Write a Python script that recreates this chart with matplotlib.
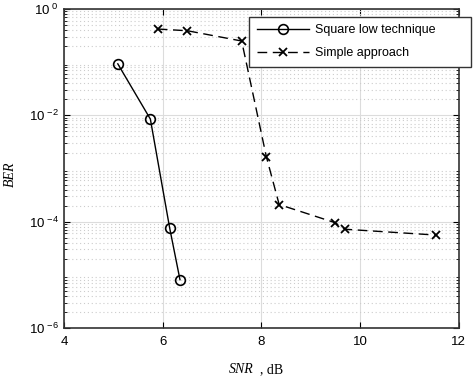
import matplotlib
matplotlib.use("Agg")
import matplotlib.pyplot as plt
from matplotlib.ticker import LogLocator, NullFormatter, FixedLocator

snr_square = [5.09, 5.75, 6.14, 6.35]
ber_square = [9.3e-2, 8.5e-3, 7.7e-5, 8.1e-6]
snr_simple = [5.90, 6.50, 7.60, 8.10, 8.36, 9.49, 9.70, 11.54]
ber_simple = [0.42, 0.39, 0.25, 1.67e-3, 2.1e-4, 9.6e-5, 7.2e-5, 5.6e-5]
xticks = [4, 6, 8, 10, 12]
yticks = [1e-6, 1e-4, 1e-2, 1e0]
ytick_labels = ['10$^{\\ \\mathregular{-6}}$', '10$^{\\ \\mathregular{-4}}$',
                '10$^{\\ \\mathregular{-2}}$', '10$^{\\ \\mathregular{0}}$']

plt.rcParams['font.family'] = ['Liberation Sans', 'DejaVu Sans']
plt.rcParams['mathtext.fontset'] = 'custom'
plt.rcParams['mathtext.rm'] = 'Liberation Sans'

fig = plt.figure(figsize=(4.74, 3.88), dpi=100)
ax = fig.add_axes([0.135, 0.1546, 0.833, 0.8222])

ax.plot(snr_square, ber_square, '-o', color='black', lw=1.0, mfc='none',
        mec='black', ms=7, mew=1.2, label='Square low technique')
ax.plot(snr_simple, ber_simple, '--x', color='black', lw=1.0, ms=6, mew=1.3,
        dashes=(7, 4), label='Simple approach')

ax.set_yscale('log')
ax.set_xlim(4, 12)
ax.set_ylim(1e-6, 1)
ax.xaxis.set_major_locator(FixedLocator(xticks))
ax.yaxis.set_major_locator(FixedLocator(yticks))
ax.set_yticklabels(ytick_labels)
ax.yaxis.set_minor_locator(LogLocator(base=10, subs=range(2, 10), numticks=20))
ax.yaxis.set_minor_formatter(NullFormatter())

ax.grid(True, which='major', color='#dcdcdc', lw=0.8, ls='-')
ax.grid(True, which='minor', axis='y', color='#cccccc', lw=0.8, ls=(0, (1, 2.5)))
ax.set_axisbelow(True)

ax.tick_params(which='both', direction='in', top=True, right=True, labelsize=9.5)
ax.tick_params(axis='x', which='major', pad=6)
ax.tick_params(which='major', length=4)
ax.tick_params(which='minor', length=2)
for s in ax.spines.values():
    s.set_linewidth(1.2)
    s.set_color('#333333')

fig.text(0.535, 0.048, 'SNR', fontfamily='Liberation Serif', style='italic',
         fontsize=10, ha='right', va='center')
fig.text(0.548, 0.048, ', dB', fontfamily='Liberation Serif',
         fontsize=10, ha='left', va='center')
fig.text(0.022, 0.55, 'BER', fontfamily='Liberation Serif', style='italic',
         fontsize=10, rotation=90, ha='center', va='center')

leg = ax.legend(loc='upper left',
                bbox_to_anchor=(249 / 474, 1 - 65 / 388, 222 / 474, 48 / 388),
                bbox_transform=fig.transFigure, mode='expand', borderaxespad=0,
                fontsize=9, frameon=True,
                fancybox=False, edgecolor='#333333', framealpha=1,
                handlelength=4.2, handletextpad=0.5, borderpad=0.6,
                labelspacing=0.85)
leg.get_frame().set_linewidth(1.0)

fig.savefig('out.png', dpi=100)
